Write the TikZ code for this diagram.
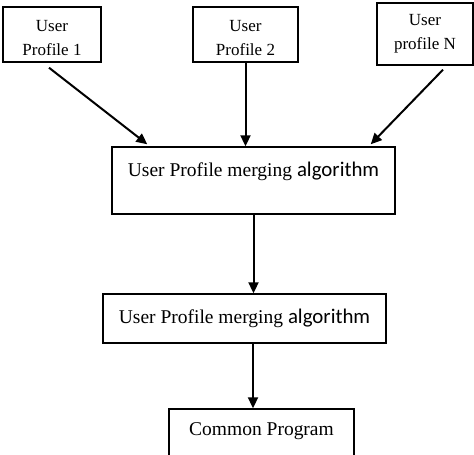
\documentclass[tikz,border=0pt]{standalone}
\usepackage{fontspec}
\setmainfont{Liberation Serif}
\newfontfamily\algofont[Scale=1.07]{Carlito}
\usepackage{tikz}
\usetikzlibrary{arrows.meta}

\begin{document}
\begin{tikzpicture}[x=1pt,y=-1pt,
      arr/.style={line width=2pt,-{Triangle[length=11pt,width=10pt]}}]
      \tikzstyle{every node}=[rectangle,draw,line width=1.4pt,inner sep=0pt,align=center]
      \tikzstyle{profile}=[font=\fontsize{17}{24}\selectfont]
      \tikzstyle{merge}=[font=\fontsize{19.5}{23}\selectfont,minimum width=283pt]
      \useasboundingbox (0,0) rectangle (474,455);
      \clip (0,0) rectangle (474,455);
      \node[profile,minimum width=98pt,minimum height=55pt,text height=42pt] (p1) at (52,34.5) {User\\Profile 1};
      \node[profile,minimum width=105pt,minimum height=55pt,text height=42pt] (p2) at (245.5,34.5) {User\\Profile 2};
      \node[profile,minimum width=96pt,minimum height=62pt] (pN) at (425,34) {User\\profile N};
      \node[merge,minimum height=67pt,text depth=22pt] (m1) at (253.5,180.5) {User Profile merging {\algofont algorithm}};
      \node[merge,minimum height=49pt] (m2) at (244.5,318.5) {User Profile merging {\algofont algorithm}};
      \node[font=\fontsize{19.5}{23}\selectfont,minimum width=185pt,minimum height=60pt,text depth=20pt] (cp) at (261.5,439) {Common Program};
      % arrows
      \draw[arr] ([xshift=-3pt,yshift=-5pt]p1.south) -- ([xshift=36pt,yshift=2pt]m1.north west);
      \draw[arr] (p2.south) -- (p2.south |- m1.north);
      \draw[arr] ([xshift=18pt,yshift=-4pt]pN.south) -- ([xshift=-25pt,yshift=2pt]m1.north east);
      \draw[arr] (m1.south) -- (m1.south |- m2.north);
      \draw[arr] ([xshift=8.5pt]m2.south) -- ([xshift=-8.5pt]cp.north);
\end{tikzpicture}
\end{document}
